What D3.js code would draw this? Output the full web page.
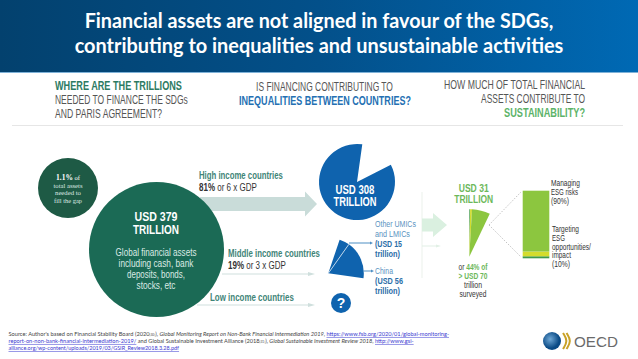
<!DOCTYPE html>
<html>
<head>
<meta charset="utf-8">
<script src="https://cdn.jsdelivr.net/npm/d3@7"></script>
<style>
  html, body { margin: 0; padding: 0; background: #fff; }
  svg { display: block; }
  text { font-family: "Liberation Sans", sans-serif; }
</style>
</head>
<body>
<svg id="chart" width="638" height="359"></svg>
<script>
// values
const titleLines = [
  "Financial assets are not aligned in favour of the SDGs,",
  "contributing to inequalities and unsustainable activities",
];
const highIncomeWedge = [305, 55]; // filled part, missing slice (degrees as drawn)
const middleIncomeParts = [
  { name: "Other UMICs and LMICs", value: 15 },
  { name: "China", value: 56 },
];
const sustainableWedge = [4, 9, 87]; // dark, yellow, light, as drawn in the wedge
const esgStack = [
  { name: "Managing ESG risks", value: 90, color: "#8cc63f" },
  { name: "Other targeting", value: 7, color: "#d4dc2c" },
  { name: "Targeting ESG opportunities/impact", value: 3, color: "#3f9a4a" },
];
const wedgeColors = ["#3f9a4a", "#d4dc2c", "#8cc63f"];

const BLUE = "#0f63ae";
const TEAL = "#1b6a55";
const svg = d3.select("#chart");
const rad = (deg) => (deg * Math.PI) / 180;

// text at (x, y), squeezed sideways to the width it has in the picture
function label(x, y, parts, size, color, width, opts = {}) {
  const el = svg
    .append("text")
    .attr("font-size", size)
    .attr("fill", color)
    .attr("text-anchor", opts.anchor || "start")
    .attr("font-weight", opts.bold ? "bold" : "normal");
  if (opts.font) el.style("font-family", opts.font);
  const list = typeof parts === "string" ? [{ t: parts }] : parts;
  list.forEach((p) => {
    const span = el.append("tspan").text(p.t);
    if (p.bold !== undefined) span.attr("font-weight", p.bold ? "bold" : "normal");
    if (p.color) span.attr("fill", p.color);
    if (p.size) span.attr("font-size", p.size);
    if (p.italic) span.attr("font-style", "italic");
    if (p.link) span.attr("fill", "#3a3ad0").attr("text-decoration", "underline");
  });
  const sx = width ? width / el.node().getComputedTextLength() : 1;
  el.attr("transform", `translate(${x},${y}) scale(${sx},1)`);
  return el;
}

function arrow(x0, x1, yMid, bodyH, headH, headW, color) {
  // block arrow, pointing right
  const pts = [
    [x0, yMid - bodyH / 2],
    [x1 - headW, yMid - bodyH / 2],
    [x1 - headW, yMid - headH / 2],
    [x1, yMid],
    [x1 - headW, yMid + headH / 2],
    [x1 - headW, yMid + bodyH / 2],
    [x0, yMid + bodyH / 2],
  ];
  svg.append("path").attr("d", d3.line()(pts) + "Z").attr("fill", color);
}

// header band
const defs = svg.append("defs");
const grad = defs.append("linearGradient").attr("id", "band");
grad.append("stop").attr("offset", "0").attr("stop-color", "#03416e");
grad.append("stop").attr("offset", "0.5").attr("stop-color", "#03508a");
grad.append("stop").attr("offset", "1").attr("stop-color", "#0069b4");
svg.append("rect").attr("width", 638).attr("height", 72).attr("fill", "url(#band)");
svg.append("rect").attr("y", 72).attr("width", 638).attr("height", 1).attr("fill", "#7fb2d8");
const titleWidths = [469, 489];
titleLines.forEach((t, i) => {
  label(319, 27.5 + i * 25.7, t, 20, "#fff", titleWidths[i], { anchor: "middle", bold: true, font: "Lato, sans-serif" });
});

// three questions
label(55, 90, "WHERE ARE THE TRILLIONS", 12, "#2c7a62", 127, { bold: true });
label(55, 104, "NEEDED TO FINANCE THE SDGs", 12, "#555", 133);
label(55, 118, "AND PARIS AGREEMENT?", 12, "#555", 107);
label(324.5, 91, "IS FINANCING CONTRIBUTING TO", 12, "#555", 137, { anchor: "middle" });
label(325, 105, "INEQUALITIES BETWEEN COUNTRIES?", 12, "#2470b3", 172, { anchor: "middle", bold: true });
label(585, 89, "HOW MUCH OF TOTAL FINANCIAL", 12, "#555", 141, { anchor: "end" });
label(585, 103, "ASSETS CONTRIBUTE TO", 12, "#555", 104, { anchor: "end" });
label(585, 117, "SUSTAINABILITY?", 12, "#5cb368", 81, { anchor: "end", bold: true });
svg.append("line").attr("x1", 12).attr("x2", 623).attr("y1", 125.5).attr("y2", 125.5).attr("stroke", "#e6e6e6");

// arrows from the big circle
arrow(200, 317, 204, 14, 25, 12, "#c9dcd9");
arrow(222, 315, 274, 1, 4, 7, "#cfdfdd");
arrow(197, 315, 305, 1, 4, 7, "#cfdfdd");

// circles
svg.append("circle").attr("cx", 156.5).attr("cy", 249.5).attr("r", 67.5).attr("fill", TEAL);
svg.append("circle").attr("cx", 68).attr("cy", 188).attr("r", 30).attr("fill", "#1e5a45");

const SERIF = "Liberation Serif, serif";
label(68, 180, [{ t: "1.1%", bold: true }, { t: " of", size: 7 }], 8, "#fff", 24, { anchor: "middle", font: SERIF });
[["total assets", 29], ["needed to", 26], ["fill the gap", 28]].forEach(([t, w], i) => {
  label(68, 187.7 + i * 7.4, t, 7, "#dfeae4", w, { anchor: "middle", font: SERIF });
});

label(156, 221, "USD 379", 13, "#fff", 43, { anchor: "middle", bold: true });
label(156, 234, "TRILLION", 13, "#fff", 46, { anchor: "middle", bold: true });
[["Global financial assets", 81], ["including cash, bank", 75], ["deposits, bonds,", 58], ["stocks, etc", 39]].forEach(([t, w], i) => {
  label(156, 255.7 + i * 11, t, 10.5, "#dcebe5", w, { anchor: "middle" });
});

// income labels
const GREY_TEAL = "#3f8578";
label(199, 179, "High income countries", 11, GREY_TEAL, 84, { bold: true });
label(199, 191, [{ t: "81%", bold: true }, { t: " or 6 x GDP" }], 10.5, "#333", 58);
label(228, 257, "Middle income countries", 11, GREY_TEAL, 92, { bold: true });
label(228, 269, [{ t: "19%", bold: true }, { t: " or 3 x GDP" }], 10.5, "#333", 58);
label(210, 301, "Low income countries", 11, GREY_TEAL, 84, { bold: true });

// high income pie
const bigArc = d3.arc().innerRadius(0).outerRadius(38);
const bigPie = d3.pie().sort(null).startAngle(rad(63)).endAngle(rad(63 + 360));
svg
  .append("g")
  .attr("transform", "translate(357,182)")
  .selectAll("path")
  .data(bigPie(highIncomeWedge))
  .join("path")
  .attr("d", bigArc)
  .attr("fill", (d, i) => (i === 0 ? BLUE : "none"));
label(355, 193.5, "USD 308", 12.5, "#fff", 39, { anchor: "middle", bold: true });
label(355, 205.7, "TRILLION", 12.5, "#fff", 43, { anchor: "middle", bold: true });

// middle income pie, only the divider is light
const midArc = d3.arc().innerRadius(0).outerRadius(35.5);
const midPie = d3
  .pie()
  .sort(null)
  .value((d) => d.value)
  .startAngle(rad(18.6))
  .endAngle(rad(98));
const midSlices = midPie(middleIncomeParts);
const midG = svg.append("g").attr("transform", "translate(328.3,273.3)");
midG.selectAll("path").data(midSlices).join("path").attr("d", midArc).attr("fill", BLUE);
midG
  .append("line")
  .attr("x2", 35.5 * Math.sin(midSlices[0].endAngle))
  .attr("y2", -35.5 * Math.cos(midSlices[0].endAngle))
  .attr("stroke", "#d7e6f2")
  .attr("stroke-width", 0.8);

arrow(349, 373, 243, 0.8, 3, 3, "#4f8fc4");
arrow(363, 374, 271, 0.8, 3, 3, "#4f8fc4");

// right hand labels of the middle column
const SOFT_BLUE = "#5b93c1";
const DEEP_BLUE = "#2a6ea8";
label(375, 227, "Other UMICs", 9.5, SOFT_BLUE, 41);
label(375, 237, "and LMICs", 9.5, SOFT_BLUE, 35);
label(375, 247, "(USD 15", 9.5, DEEP_BLUE, 27, { bold: true });
label(375, 257, "trillion)", 9.5, DEEP_BLUE, 25, { bold: true });
label(375, 274, "China", 9.5, SOFT_BLUE, 18);
label(375, 284, "(USD 56", 9.5, DEEP_BLUE, 28, { bold: true });
label(375, 294, "trillion)", 9.5, DEEP_BLUE, 25, { bold: true });

// question mark
svg.append("circle").attr("cx", 341).attr("cy", 303).attr("r", 10).attr("fill", BLUE);
label(341, 308, "?", 14, "#fff", null, { anchor: "middle", bold: true });

// separator and green arrow
svg.append("line").attr("x1", 422).attr("x2", 422).attr("y1", 192).attr("y2", 278).attr("stroke", "#eef3ef").attr("stroke-width", 1.2);
arrow(422, 447, 225, 13, 24, 14, "#daf0e0");
arrow(422, 441, 246, 0.8, 3, 5, "#e1f0e5");

// sustainability wedge
const SOFT_GREEN = "#6cb85a";
label(473.7, 192, "USD 31", 11, SOFT_GREEN, 30, { anchor: "middle", bold: true });
label(473.7, 203, "TRILLION", 11, SOFT_GREEN, 39, { anchor: "middle", bold: true });
const susArc = d3.arc().innerRadius(0).outerRadius(47.5);
const susPie = d3.pie().sort(null).startAngle(0).endAngle(rad(25.5));
svg
  .append("g")
  .attr("transform", "translate(469.3,256.7)")
  .selectAll("path")
  .data(susPie(sustainableWedge))
  .join("path")
  .attr("d", susArc)
  .attr("fill", (d, i) => wedgeColors[i]);

label(473, 270, [{ t: "or " }, { t: "44% of", color: SOFT_GREEN, bold: true }], 8.5, "#333", 29, { anchor: "middle" });
label(473, 279, "> USD 70", 8.5, SOFT_GREEN, 29, { anchor: "middle", bold: true });
label(473, 288, "trillion", 8.5, "#333", 18, { anchor: "middle" });
label(473, 297, "surveyed", 8.5, "#333", 27, { anchor: "middle" });

// zoom lines from the wedge to the bar
[192, 257].forEach((y) => {
  svg.append("line").attr("x1", 489).attr("y1", 225).attr("x2", 521).attr("y2", y).attr("stroke", "#aaa").attr("stroke-width", 0.7).attr("stroke-dasharray", "1.5 1.5");
});

// ESG stacked bar, first entry on top so stack the list from the bottom up
const barY = d3.scaleLinear().domain([0, 100]).range([258.3, 190.7]);
const stackRow = Object.fromEntries(esgStack.map((d) => [d.name, d.value]));
const stackReversed = d3.stack().keys(esgStack.map((d) => d.name).reverse())([stackRow]);
svg
  .append("g")
  .selectAll("rect")
  .data(stackReversed)
  .join("rect")
  .attr("x", 522.7)
  .attr("width", 26.6)
  .attr("y", (s) => barY(s[0][1]))
  .attr("height", (s) => barY(s[0][0]) - barY(s[0][1]))
  .attr("fill", (s) => esgStack.find((d) => d.name === s.key).color);

[["Managing", 29], ["ESG risks", 27], ["(90%)", 18]].forEach(([t, w], i) => {
  label(551, 186 + i * 9, t, 8.5, "#333", w);
});
[["Targeting", 27], ["ESG", 13], ["opportunities/", 39], ["impact", 19], ["(10%)", 18]].forEach(([t, w], i) => {
  label(552, 232 + i * 8.8, t, 8.5, "#333", w);
});

// source
const srcLines = [
  [
    { t: "Source: Author's based on Financial Stability Board (2020" },
    { t: "[30]", size: 3 },
    { t: "), " },
    { t: "Global Monitoring Report on Non-Bank Financial Intermediation 2019", italic: true },
    { t: ", " },
    { t: "https://www.fsb.org/2020/01/global-monitoring-", link: true },
  ],
  [
    { t: "report-on-non-bank-financial-intermediation-2019/", link: true },
    { t: " and Global Sustainable Investment Alliance (2018" },
    { t: "[31]", size: 3 },
    { t: "), " },
    { t: "Global Sustainable Investment Review 2018", italic: true },
    { t: ", " },
    { t: "http://www.gsi-", link: true },
  ],
  [{ t: "alliance.org/wp-content/uploads/2019/03/GSIR_Review2018.3.28.pdf", link: true }],
];
const srcWidths = [441.5, 405, 171];
srcLines.forEach((parts, i) => {
  label(8.5, 336 + i * 7, parts, 5.3, "#444", srcWidths[i], { font: "Lato, sans-serif" });
});

// OECD logo
const globe = defs.append("radialGradient").attr("id", "globe").attr("cx", "0.4").attr("cy", "0.4");
globe.append("stop").attr("offset", "0").attr("stop-color", "#6fa8d6");
globe.append("stop").attr("offset", "1").attr("stop-color", "#0a4a85");
svg.append("circle").attr("cx", 552).attr("cy", 341).attr("r", 9).attr("fill", "url(#globe)");
[0, 3.5].forEach((dx) => {
  const x = 563 + dx;
  svg
    .append("path")
    .attr("d", d3.line().curve(d3.curveBasis)([[x, 333], [x + 5, 341], [x, 349]]))
    .attr("fill", "none")
    .attr("stroke", "#c9a227")
    .attr("stroke-width", 2);
});
label(574, 347, "OECD", 15.5, "#6a6a6a", 44);
</script>
</body>
</html>
